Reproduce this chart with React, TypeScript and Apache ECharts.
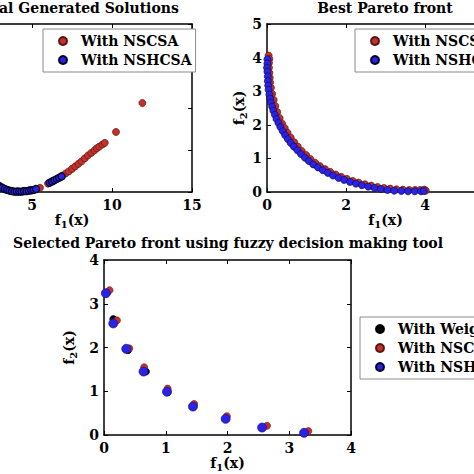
import { useEffect, useRef } from "react";
import * as echarts from "echarts";

const FONT = "DejaVu Serif";
const RED = "#c4312b";
const BLUE = "#2a22e6";
const BLACK = "#000000";

const NAME_NSCSA = "With NSCSA";
const NAME_NSHCSA = "With NSHCSA";
const NAME_WEIGHTED = "With Weighted Sum";

// Initial generated solutions: [f1, f2]
const initialNSCSA: number[][] = [
  [2.2, 0.42], [2.6, 0.27], [2.9, 0.15], [3.3, 0.07], [3.7, 0.03], [4.1, 0.02],
  [4.5, 0.03], [4.9, 0.05], [5.5, 0.1], [6.0, 0.2], [6.3, 0.26], [6.6, 0.32],
  [6.9, 0.39], [7.1, 0.44], [7.3, 0.49], [7.5, 0.55], [7.7, 0.61], [7.9, 0.67],
  [8.1, 0.73], [8.3, 0.8], [8.5, 0.87], [8.7, 0.93], [8.9, 0.99], [9.05, 1.04],
  [9.2, 1.08], [9.4, 1.13], [9.55, 1.17], [10.25, 1.43], [11.9, 2.12],
];
const initialNSHCSA: number[][] = [
  [2.3, 0.38], [2.5, 0.3], [2.7, 0.22], [2.85, 0.17], [3.0, 0.13], [3.15, 0.1],
  [3.3, 0.07], [3.45, 0.05], [3.6, 0.03], [3.75, 0.02], [3.9, 0.01], [4.05, 0.01],
  [4.2, 0.01], [4.35, 0.01], [4.5, 0.02], [4.65, 0.02], [4.8, 0.03], [4.95, 0.04],
  [5.1, 0.05], [5.25, 0.07], [6.1, 0.22], [6.25, 0.25], [6.4, 0.28], [6.55, 0.31],
  [6.7, 0.34], [6.85, 0.37],
];

// Best Pareto front: [f1, f2]
const frontNSCSA: number[][] = [
  [0.04, 4.06], [0.06, 3.96], [0.05, 3.84], [0.05, 3.7], [0.06, 3.55], [0.07, 3.4],
  [0.08, 3.26], [0.1, 3.1], [0.13, 2.92], [0.17, 2.74], [0.21, 2.56], [0.26, 2.38],
  [0.32, 2.2], [0.38, 2.04], [0.45, 1.9], [0.52, 1.76], [0.6, 1.62], [0.69, 1.48],
  [0.78, 1.35], [0.88, 1.22], [0.99, 1.1], [1.1, 0.98], [1.22, 0.87], [1.34, 0.77],
  [1.47, 0.68], [1.6, 0.6], [1.74, 0.52], [1.88, 0.45], [2.02, 0.39], [2.17, 0.33],
  [2.32, 0.28], [2.48, 0.23], [2.64, 0.19], [2.8, 0.15], [2.96, 0.12], [3.12, 0.1],
  [3.28, 0.08], [3.44, 0.07], [3.6, 0.06], [3.75, 0.06], [3.88, 0.06], [3.98, 0.07],
  [4.02, 0.04],
];
const frontNSHCSA: number[][] = [
  [0.01, 3.95], [0.01, 3.82], [0.0, 3.7], [0.01, 3.58], [0.02, 3.44], [0.02, 3.3],
  [0.03, 3.17], [0.04, 3.04], [0.06, 2.9], [0.08, 2.78], [0.1, 2.66], [0.13, 2.54],
  [0.16, 2.42], [0.2, 2.3], [0.24, 2.17], [0.29, 2.05], [0.34, 1.93], [0.4, 1.81],
  [0.46, 1.69], [0.53, 1.57], [0.6, 1.46], [0.68, 1.35], [0.77, 1.24], [0.86, 1.13],
  [0.96, 1.02], [1.06, 0.92], [1.17, 0.82], [1.29, 0.73], [1.41, 0.65], [1.54, 0.57],
  [1.67, 0.49], [1.81, 0.42], [1.95, 0.36], [2.1, 0.3], [2.25, 0.25], [2.4, 0.2],
  [2.56, 0.16], [2.72, 0.12], [2.88, 0.09], [3.05, 0.06], [3.22, 0.04], [3.4, 0.03],
  [3.57, 0.02], [3.74, 0.02], [3.9, 0.02], [3.97, 0.03],
];

// Fuzzy-selected solutions: [f1, f2]
const selectedWeighted: number[][] = [
  [0.05, 3.25], [0.15, 2.65], [0.39, 1.94], [0.68, 1.45], [1.03, 0.98],
  [1.45, 0.66], [1.97, 0.37], [2.57, 0.17], [3.25, 0.05],
];
const selectedNSCSA: number[][] = [
  [0.09, 3.31], [0.21, 2.62], [0.41, 1.98], [0.65, 1.55], [1.03, 1.06],
  [1.46, 0.71], [1.99, 0.43], [2.64, 0.21], [3.31, 0.09],
];
const selectedNSHCSA: number[][] = [
  [0.03, 3.24], [0.15, 2.55], [0.36, 1.97], [0.64, 1.45], [1.02, 0.99],
  [1.44, 0.65], [1.97, 0.37], [2.56, 0.17], [3.24, 0.05],
];

const TOP_TITLE_LEFT = "Initial Generated Solutions";
const TOP_TITLE_RIGHT = "Best Pareto front";
const BOTTOM_TITLE = "Selected Pareto front using fuzzy decision making tool";

const labelText = {
  color: "#000",
  fontFamily: FONT,
  fontWeight: "bold" as const,
  fontSize: 14,
};

function axisName(idx: string) {
  return `{b|f}{s|${idx}}{b|(x)}`;
}

const nameStyle = {
  ...labelText,
  rich: {
    b: { ...labelText, fontSize: 14 },
    s: { ...labelText, fontSize: 10, padding: [8, 0, 0, 0] },
  },
};

function axisPair(
  dim: "x" | "y",
  gridIndex: number,
  min: number,
  max: number,
  interval: number,
  nameIdx: string,
  nameGap: number
) {
  const common = {
    type: "value" as const,
    gridIndex,
    min,
    max,
    interval,
    splitLine: { show: false },
    axisLine: { show: true, onZero: false, lineStyle: { color: "#000", width: 1.5 } },
    axisTick: { show: true, inside: true, length: 4, lineStyle: { color: "#000", width: 1 } },
  };
  const main = {
    ...common,
    position: dim === "x" ? "bottom" : "left",
    axisLabel: { ...labelText, margin: dim === "x" ? 6 : 5 },
    name: axisName(nameIdx),
    nameLocation: "middle",
    nameGap,
    nameTextStyle: nameStyle,
  };
  const mirror = {
    ...common,
    position: dim === "x" ? "top" : "right",
    axisLabel: { show: false },
  };
  return [main, mirror];
}

const legendBase = {
  orient: "vertical" as const,
  backgroundColor: "#fff",
  borderColor: "#8a8a8a",
  borderWidth: 1,
  borderRadius: 0,
  padding: [4, 4, 4, 15],
  itemGap: 3,
  itemWidth: 26,
  itemHeight: 8,
  icon: "circle",
  textStyle: { ...labelText, lineHeight: 16 },
};

function scatter(
  name: string,
  data: number[][],
  axis: number,
  color: string,
  border: string,
  size: number,
  borderWidth = 0.7
) {
  return {
    type: "scatter" as const,
    name,
    data,
    xAxisIndex: axis,
    yAxisIndex: axis,
    symbol: "circle",
    symbolSize: size,
    itemStyle: { color, borderColor: border, borderWidth, opacity: 1 },
    emphasis: { disabled: true },
  };
}

function titleText(text: string, x: number, y: number) {
  return {
    type: "text",
    x,
    y,
    style: {
      text,
      fill: "#000",
      font: `bold 14px "${FONT}"`,
      align: "center",
      verticalAlign: "middle",
    },
  };
}

export default function App() {
  const ref = useRef<HTMLDivElement>(null);

  useEffect(() => {
    if (!ref.current) return;
    const chart = echarts.init(ref.current, undefined, { renderer: "svg" });

    const [x0, x0m] = axisPair("x", 0, 0, 15, 5, "1", 19);
    const [y0, y0m] = axisPair("y", 0, 0, 4, 1, "2", 17);
    const [x1, x1m] = axisPair("x", 1, 0, 6, 2, "1", 19);
    const [y1, y1m] = axisPair("y", 1, 0, 5, 1, "2", 17);
    const [x2, x2m] = axisPair("x", 2, 0, 4, 1, "1", 19);
    const [y2, y2m] = axisPair("y", 2, 0, 4, 1, "2", 15);

    const gridBase = { outerBoundsMode: "none", containLabel: false };

    chart.setOption({
      animation: false,
      backgroundColor: "#fff",
      grid: [
        { ...gridBase, left: -48, top: 24, width: 240, height: 168 },
        { ...gridBase, left: 267, top: 24, width: 237, height: 168 },
        { ...gridBase, left: 104, top: 260, width: 247, height: 175 },
      ],
      xAxis: [x0, x1, x2, x0m, x1m, x2m],
      yAxis: [y0, y1, y2, y0m, y1m, y2m],
      legend: [
        { ...legendBase, left: 43, top: 29, data: [NAME_NSCSA, NAME_NSHCSA] },
        { ...legendBase, left: 355, top: 29, data: [NAME_NSCSA, NAME_NSHCSA] },
        {
          ...legendBase,
          left: 360,
          top: 317,
          data: [NAME_WEIGHTED, NAME_NSCSA, NAME_NSHCSA],
        },
      ],
      graphic: [
        titleText(TOP_TITLE_LEFT, 72, 8),
        titleText(TOP_TITLE_RIGHT, 385, 8),
        titleText(BOTTOM_TITLE, 228, 243),
      ],
      series: [
        scatter(NAME_NSCSA, initialNSCSA, 0, RED, "#5a1512", 7),
        scatter(NAME_NSHCSA, initialNSHCSA, 0, BLUE, "#05052a", 7, 1.3),
        scatter(NAME_NSCSA, frontNSCSA, 1, RED, "#5a1512", 7),
        scatter(NAME_NSHCSA, frontNSHCSA, 1, BLUE, "#10104a", 7),
        scatter(NAME_WEIGHTED, selectedWeighted, 2, BLACK, "#000", 7),
        scatter(NAME_NSCSA, selectedNSCSA, 2, RED, "#7a1f1a", 7),
        scatter(NAME_NSHCSA, selectedNSHCSA, 2, BLUE, "#1a1480", 9),
      ],
    });

    return () => chart.dispose();
  }, []);

  return (
    <div
      ref={ref}
      style={{ position: "absolute", left: 0, top: 0, width: 474, height: 474 }}
    />
  );
}
